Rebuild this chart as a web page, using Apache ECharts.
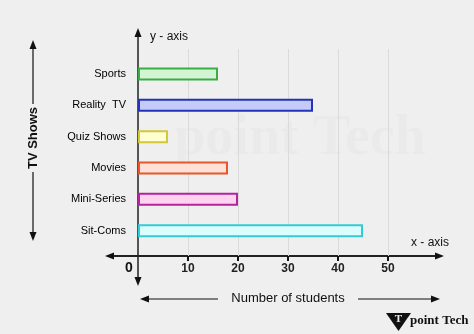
<!DOCTYPE html>
<html><head><meta charset="utf-8">
<script src="https://cdn.jsdelivr.net/npm/echarts@6/dist/echarts.min.js"></script>
<style>html,body{margin:0;padding:0;background:#efefef;}#c{width:474px;height:334px;}</style>
</head><body><div id="c"></div>
<script>
var categories = ['Sit-Coms', 'Mini-Series', 'Movies', 'Quiz Shows', 'Reality  TV', 'Sports'];
var values = [45, 20, 18, 6, 35, 16];
var fills = ['#dcfdfd', '#ffd2f0', '#ffe0d6', '#ffffd2', '#c4cbf8', '#d4f5d4'];
var strokes = ['#33ccd6', '#b3259e', '#e8562c', '#d2c83c', '#2433b8', '#3aae44'];
var xTicks = [0, 10, 20, 30, 40, 50];

var chart = echarts.init(document.getElementById('c'));
var F = 'Liberation Sans, Arial, sans-serif';
function arrowV(x, y, dir) {
  return {type:'polygon', shape:{points:[[x, y],[x-3.5, y-9*dir],[x+3.5, y-9*dir]]}, style:{fill:'#111'}};
}
function arrowH(x, y, dir) {
  return {type:'polygon', shape:{points:[[x, y],[x-9*dir, y-3.5],[x-9*dir, y+3.5]]}, style:{fill:'#111'}};
}
var gfx = [
  {type:'text', x:300, y:140, z:-1, style:{text:'point Tech', font:'bold 56px Liberation Serif, serif', fill:'rgba(0,0,0,0.02)', align:'center', verticalAlign:'middle'}},
  {type:'line', shape:{x1:138, y1:33, x2:138, y2:280}, style:{stroke:'#555', lineWidth:2}},
  arrowV(138, 28, -1), arrowV(138, 286, 1),
  {type:'line', shape:{x1:110, y1:256, x2:438, y2:256}, style:{stroke:'#222', lineWidth:2}},
  arrowH(105, 256, -1), arrowH(444, 256, 1),
  {type:'text', x:150, y:37, style:{text:'y - axis', font:'12px ' + F, fill:'#111', verticalAlign:'middle'}},
  {type:'text', x:411, y:243, style:{text:'x - axis', font:'12px ' + F, fill:'#111', verticalAlign:'middle'}},
  {type:'text', x:33, y:138, rotation:Math.PI/2, style:{text:'TV Shows', font:'bold 13px ' + F, fill:'#111', align:'center', verticalAlign:'middle'}},
  {type:'line', shape:{x1:33, y1:46, x2:33, y2:104}, style:{stroke:'#111', lineWidth:1.2}},
  arrowV(33, 40, -1),
  {type:'line', shape:{x1:33, y1:172, x2:33, y2:234}, style:{stroke:'#111', lineWidth:1.2}},
  arrowV(33, 241, 1),
  {type:'text', x:288, y:298, style:{text:'Number of students', font:'13px ' + F, fill:'#111', align:'center', verticalAlign:'middle'}},
  {type:'line', shape:{x1:146, y1:299, x2:218, y2:299}, style:{stroke:'#111', lineWidth:1.2}},
  arrowH(140, 299, -1),
  {type:'line', shape:{x1:358, y1:299, x2:434, y2:299}, style:{stroke:'#111', lineWidth:1.2}},
  arrowH(440, 299, 1),
  {type:'text', x:129, y:268, style:{text:'0', font:'bold 14px ' + F, fill:'#111', align:'center', verticalAlign:'middle'}},
  {type:'polygon', shape:{points:[[386,313],[411,313],[398.5,331]]}, style:{fill:'#111'}},
  {type:'text', x:398.5, y:319, style:{text:'T', font:'bold 11px Liberation Serif, serif', fill:'#eee', align:'center', verticalAlign:'middle'}},
  {type:'text', x:410, y:321, style:{text:'point Tech', font:'bold 13px Liberation Serif, serif', fill:'#111', verticalAlign:'middle'}}
];

chart.setOption({
  backgroundColor:'#efefef',
  animation:false,
  grid:[
    {left:138, right:86, top:58.3, bottom:334-246.3, containLabel:false},
    {left:138, right:86, top:49, bottom:334-256, containLabel:false}
  ],
  xAxis:[
    {gridIndex:0, type:'value', min:0, max:50, interval:10, show:false},
    {gridIndex:1, type:'value', min:0, max:50, interval:10,
     axisLine:{show:false},
     axisTick:{show:true, length:5, lineStyle:{color:'#111', width:2}, customValues:[10,20,30,40,50]},
     axisLabel:{margin:7, fontFamily:F, fontWeight:'bold', fontSize:12, color:'#222',
       formatter:function(v){return v === 0 ? '' : String(v);}},
     splitLine:{show:true, lineStyle:{color:'#dadada', width:1}}}
  ],
  yAxis:[
    {gridIndex:0, type:'category', data:categories, boundaryGap:true,
     axisLine:{show:false}, axisTick:{show:false}, splitLine:{show:false},
     axisLabel:{margin:12, fontFamily:F, fontSize:11, color:'#000'}},
    {gridIndex:1, type:'value', show:false, splitLine:{show:false}}
  ],
  series:[{
    type:'bar', xAxisIndex:0, yAxisIndex:0, barWidth:13,
    data: values.map(function(v, i){
      return {value:v, itemStyle:{color:fills[i], borderColor:strokes[i], borderWidth:2}};
    })
  }],
  graphic: gfx
});
</script></body></html>
